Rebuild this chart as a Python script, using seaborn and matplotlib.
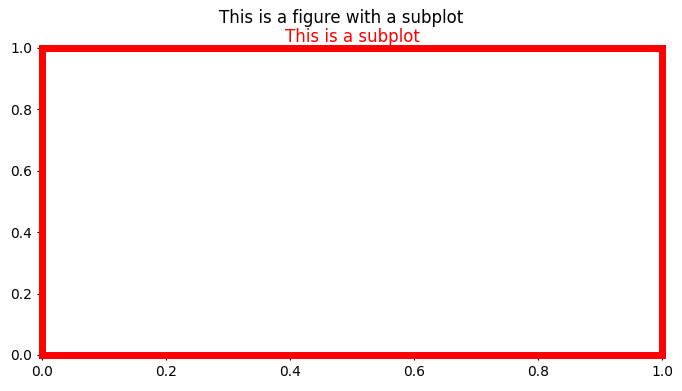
import matplotlib
matplotlib.use("Agg")
import matplotlib.pyplot as plt
import seaborn as sns
import pandas as pd

sns.set_style("ticks")
plt.rcParams['font.family'] = ['DejaVu Sans']
plt.rcParams['text.color'] = 'black'
plt.rcParams['xtick.color'] = 'black'
plt.rcParams['ytick.color'] = 'black'
plt.rcParams['axes.labelcolor'] = 'black'

suptitle_text = "This is a figure with a subplot"
subplot_title = "This is a subplot"
x_ticks = [0.0, 0.2, 0.4, 0.6, 0.8, 1.0]
y_ticks = [0.0, 0.2, 0.4, 0.6, 0.8, 1.0]

fig = plt.figure(figsize=(6.82, 3.91), dpi=100)
ax = fig.add_axes([0.0616, 0.0921, 0.9091, 0.7852])
df = pd.DataFrame({"x": pd.Series([], dtype=float), "y": pd.Series([], dtype=float)})
sns.lineplot(data=df, x="x", y="y", ax=ax)
ax.set_xlim(0, 1)
ax.set_ylim(0, 1)
ax.set_xticks(x_ticks)
ax.set_yticks(y_ticks)
ax.set_xlabel("")
ax.set_ylabel("")
for s in ax.spines.values():
    s.set_color("red")
    s.set_linewidth(5)
ax.tick_params(labelsize=10, length=3.5, width=0.8, colors="black")
ax.set_title(subplot_title, color="red", fontsize=12, pad=4.5)
fig.suptitle(suptitle_text, fontsize=12, y=0.978, color="black")
fig.savefig("out.png", dpi=100, facecolor="white")
